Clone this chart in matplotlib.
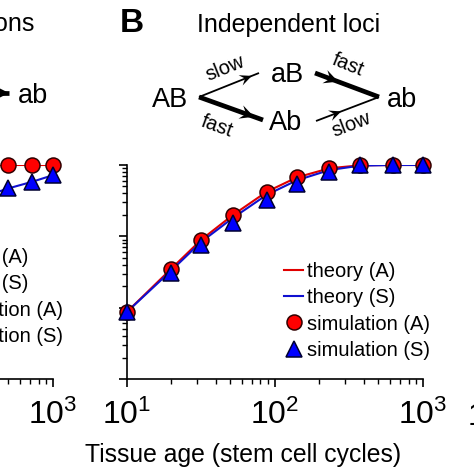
import numpy as np
import matplotlib
matplotlib.use("Agg")
import matplotlib.pyplot as plt
from matplotlib.patches import Polygon

plt.rcParams["font.family"] = ["Liberation Sans", "DejaVu Sans"]
plt.rcParams["mathtext.fontset"] = "custom"
plt.rcParams["mathtext.rm"] = "Liberation Sans"
plt.rcParams["mathtext.it"] = "Liberation Sans:italic"

# panel B (independent loci), tissue age in stem cell cycles
age = [10, 20, 32, 52, 88, 141, 234, 377, 626, 1000]
sim_A = [0.0086, 0.035, 0.090, 0.198, 0.42, 0.67, 0.90, 1.0, 1.0, 1.0]
sim_S = [0.0086, 0.031, 0.075, 0.154, 0.32, 0.55, 0.80, 0.99, 1.0, 1.0]
theory_A = [0.0086, 0.035, 0.090, 0.198, 0.42, 0.67, 0.90, 0.99, 1.0, 1.0]
theory_S = [0.0086, 0.033, 0.084, 0.180, 0.38, 0.61, 0.85, 0.98, 1.0, 1.0]

# panel A (only its right edge is inside the crop)
age_A = [500, 720, 1000]
sim_A_left = [1.0, 1.0, 1.0]
sim_S_left = [0.47, 0.58, 0.72]
theory_age_A = [300, 500, 720, 1000]
theory_A_left = [0.995, 1.0, 1.0, 1.0]
theory_S_left = [0.33, 0.47, 0.58, 0.72]

labels = ["theory (A)", "theory (S)", "simulation (A)", "simulation (S)"]

W = 474.0
fig = plt.figure(figsize=(4.74, 4.74), dpi=100)


def px(x0, y0, w, h):
    return [x0 / W, 1 - (y0 + h) / W, w / W, h / W]


def style_axes(ax):
    ax.set_xscale("log")
    ax.set_yscale("log")
    ax.set_xlim(10, 1000)
    ax.set_ylim(1e-3, 1)
    for s in ["top", "right"]:
        ax.spines[s].set_visible(False)
    for s in ["left", "bottom"]:
        ax.spines[s].set_linewidth(1.2)
    ax.tick_params(which="major", direction="out", length=6, width=1.2,
                   labelsize=23, pad=9)
    ax.tick_params(which="minor", direction="out", length=3.5, width=1.0)
    ax.tick_params(axis="y", labelleft=False)
    ax.patch.set_alpha(0)


def draw_panel(ax, xs, sa, ss, xt, ta, ts):
    ax.plot(xt, ta, color="#e00000", lw=1.5, label=labels[0], zorder=2)
    ax.plot(xt, ts, color="#1010d0", lw=1.5, label=labels[1], zorder=2)
    ax.plot(xs, sa, "o", color="#ff0000", mec="#300000", mew=1.1, ms=10.8,
            label=labels[2], clip_on=False, zorder=3)
    ax.plot(xs, ss, "^", color="#0000ff", mec="#000030", mew=1.1, ms=11.5,
            label=labels[3], clip_on=False, zorder=4)


# panel B
axB = fig.add_axes(px(126.5, 165, 296.5, 214))
style_axes(axB)
draw_panel(axB, age, sim_A, sim_S, age, theory_A, theory_S)
axB.set_xlabel("Tissue age (stem cell cycles)", fontsize=17.8)
axB.xaxis.set_label_coords((243 - 126.5) / 296.5, -0.30)

leg_kw = dict(frameon=False, fontsize=14.5, handlelength=0.95,
              handletextpad=0.2, labelspacing=0.36, borderpad=0,
              borderaxespad=0, loc="upper left",
              bbox_transform=fig.transFigure)
axB.legend(bbox_to_anchor=(284 / W, 1 - 262 / W), **leg_kw)

# panel A, shifted left out of the crop
axA = fig.add_axes(px(53 - 296.5, 165, 296.5, 214))
style_axes(axA)
draw_panel(axA, age_A, sim_A_left, sim_S_left, theory_age_A,
           theory_A_left, theory_S_left)
axA.legend(bbox_to_anchor=((284 - 367) / W, 1 - 248 / W), **leg_kw)

# overlay for titles and the reaction diagrams, pixel coordinates
ov = fig.add_axes([0, 0, 1, 1])
ov.set_xlim(0, W)
ov.set_ylim(W, 0)
ov.axis("off")

ov.text(120, 32, "B", fontsize=24, fontweight="bold", va="baseline")
ov.text(289, 32, "Independent loci", fontsize=18, ha="center", va="baseline")
ov.text(34, 31, "ons", fontsize=18, ha="right", va="baseline")

for name, x, y in [("AB", 170, 107), ("aB", 287, 82), ("Ab", 286, 130),
                   ("ab", 402, 107), ("ab", 33, 103)]:
    ov.text(x, y, name, fontsize=19.5, ha="center", va="baseline")


def arrow(p0, p1, lw, t, L, hw):
    p0 = np.array(p0, float)
    p1 = np.array(p1, float)
    ov.plot([p0[0], p1[0]], [p0[1], p1[1]], color="black", lw=lw,
            solid_capstyle="butt")
    d = (p1 - p0) / np.hypot(*(p1 - p0))
    n = np.array([-d[1], d[0]])
    tip = p0 + t * (p1 - p0)
    base = tip - L * d
    notch = tip - 0.6 * L * d
    ov.add_patch(Polygon([tip, base + hw * n, notch, base - hw * n],
                         closed=True, color="black", lw=0))


arrow((199, 97), (259, 73), 1.3, 0.88, 12, 5.5)
arrow((199, 97), (263, 120), 3.4, 0.86, 14, 7)
arrow((315, 73), (379, 97), 3.4, 0.36, 14, 7)
arrow((316, 121), (379, 97), 1.3, 0.40, 12, 5.5)
arrow((-30, 93), (9, 93), 3.4, 1.0, 13, 6.5)

for word, x, y, rot in [("slow", 225, 68, 22), ("fast", 217, 126, -20),
                        ("fast", 348, 65, -22), ("slow", 351, 125, 21)]:
    ov.text(x, y, word, fontsize=14.5, ha="center", va="center",
            rotation=rot, rotation_mode="anchor")

# first tick label of the next panel, cut by the right edge
ov.text(467, 417, r"$\mathdefault{10^{1}}$", fontsize=23, ha="left",
        va="center")

fig.savefig("out.png", dpi=100)
